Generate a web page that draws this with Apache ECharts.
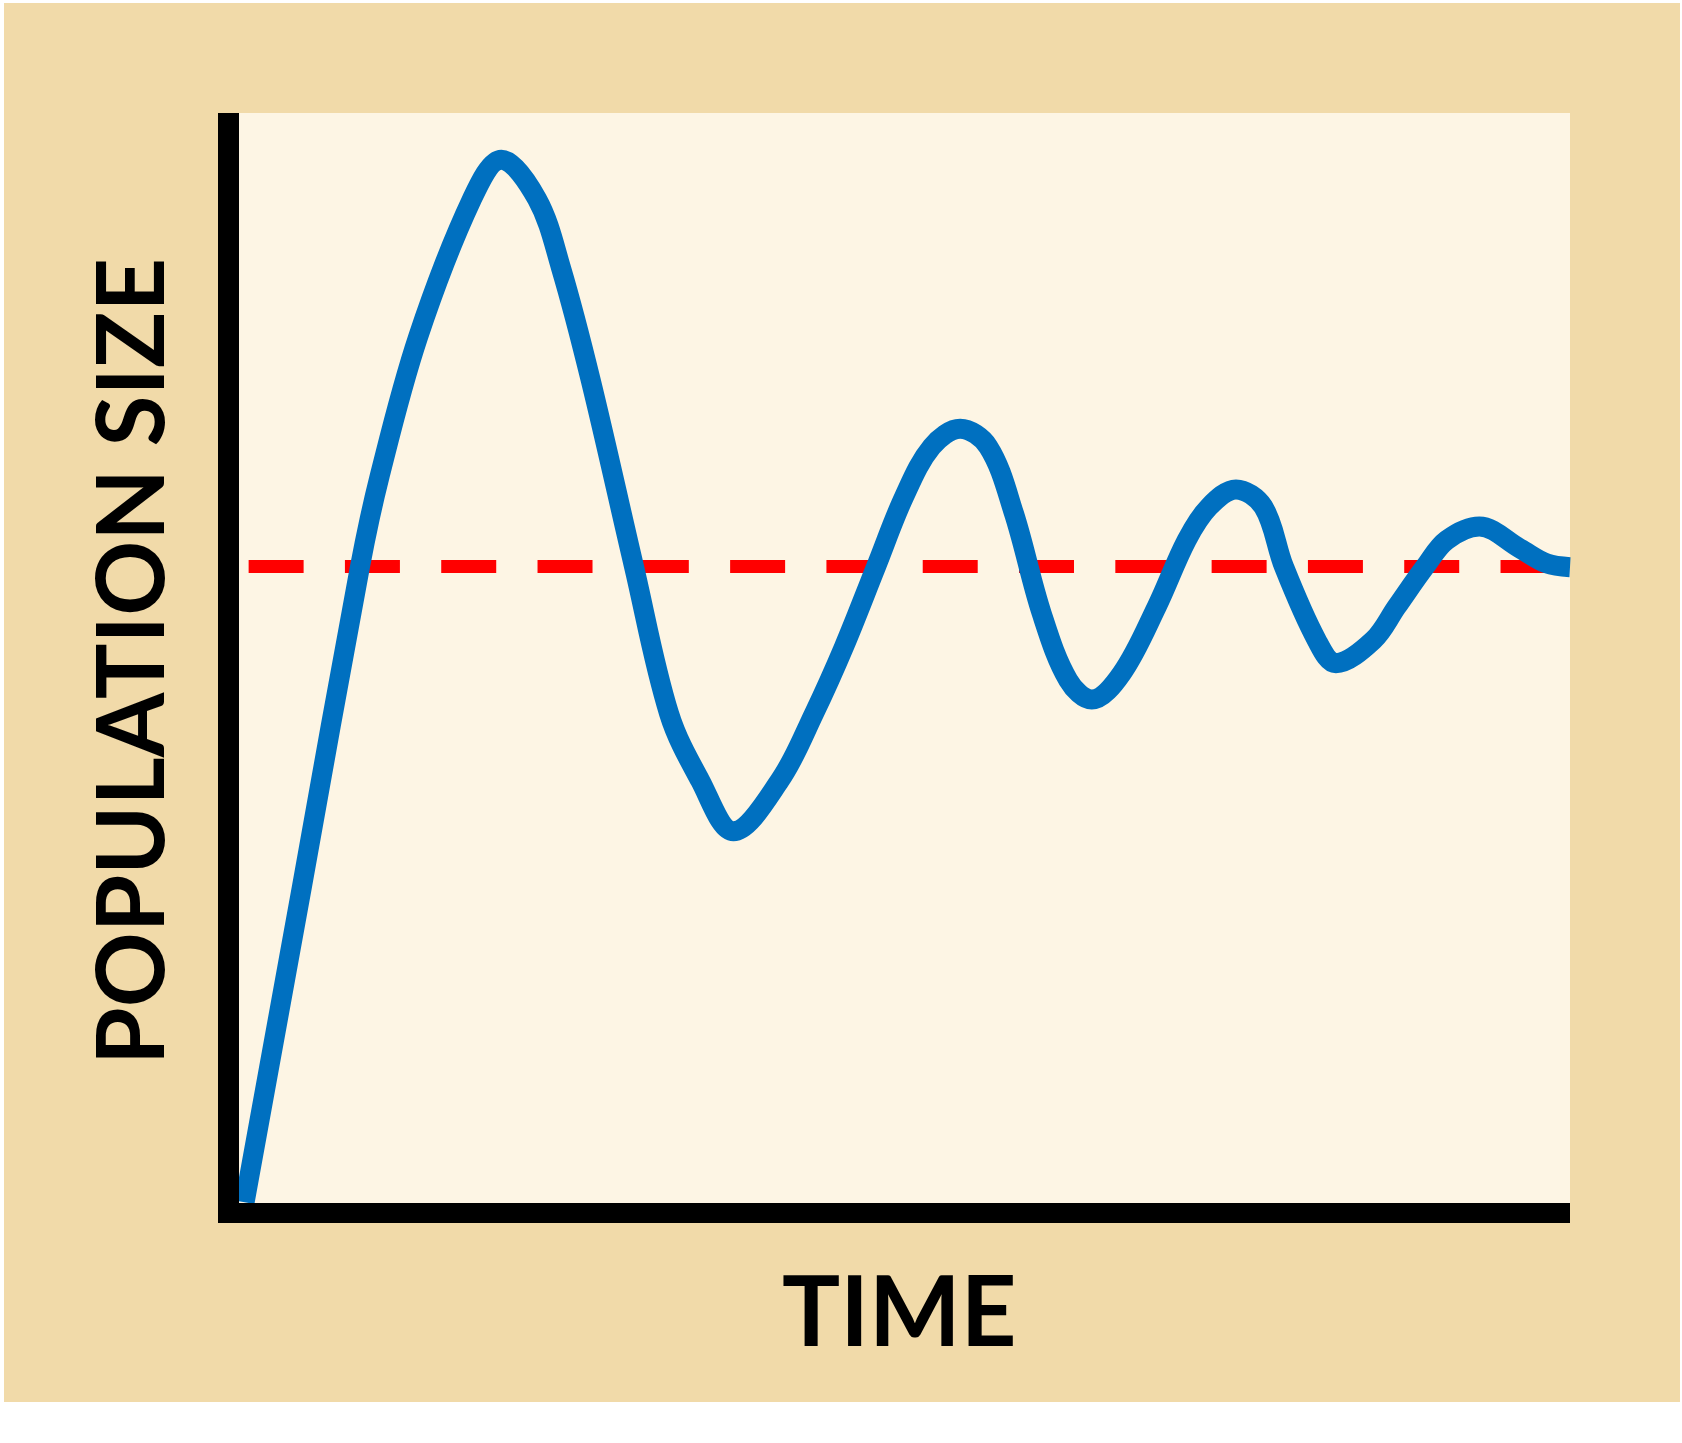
<!DOCTYPE html>
<html>
<head>
<meta charset="utf-8">
<script src="https://cdn.jsdelivr.net/npm/echarts@6/dist/echarts.min.js"></script>
<style>
  html, body { margin: 0; padding: 0; background: #ffffff; width: 1682px; height: 1443px; overflow: hidden; }
  #chart { position: absolute; left: 4px; top: 3px; width: 1676px; height: 1399px; }
</style>
</head>
<body>
<div id="chart"></div>
<script>
// ---- data ----
const xAxisTitle = 'TIME';
const yAxisTitle = 'POPULATION SIZE';

const time = [
  1.20, 5.48, 9.80, 11.29, 14.13, 18.15, 20.34, 23.00, 24.79, 27.00,
  30.23, 32.84, 35.15, 37.64, 41.11, 43.65, 45.88, 48.27, 50.35, 52.42,
  54.54, 56.64, 58.55, 60.62, 62.60, 64.35, 66.58, 69.19, 71.43, 73.09,
  75.10, 77.14, 78.68, 81.12, 82.55, 85.34, 87.08, 89.19, 90.81, 93.24,
  96.27, 98.26, 100.00
];
const population = [
  0.1, 29.08, 58.39, 66.81, 79.45, 92.11, 95.72, 92.11, 85.78, 75.50,
  58.39, 44.93, 38.81, 34.13, 38.81, 44.93, 51.04, 58.39, 64.77, 69.39,
  71.04, 69.39, 63.28, 54.10, 47.98, 46.21, 48.60, 54.71, 60.83, 63.88,
  65.48, 63.88, 58.38, 51.65, 49.54, 51.65, 54.71, 58.38, 60.83, 62.08,
  60.06, 58.69, 58.35
];
const carryingCapacity = 58.4;
const capacitySpan = [1.5, 100];

// ---- build series data from the arrays ----
const curveData = time.map((t, i) => [t, population[i]]);
const capacityData = capacitySpan.map(t => [t, carryingCapacity]);

const chart = echarts.init(document.getElementById('chart'), null, { renderer: 'canvas' });
const labelFont = 'Lato, "Open Sans", "Noto Sans", sans-serif';

chart.setOption({
  animation: false,
  backgroundColor: '#F1DAA9',
  grid: {
    left: 224.5, right: 110, top: 110, bottom: 179,
    show: true,
    backgroundColor: '#FDF5E4',
    borderWidth: 0,
    outerBoundsMode: 'none'
  },
  xAxis: {
    type: 'value',
    min: 0, max: 100,
    offset: -10,
    z: 5,
    name: xAxisTitle,
    nameLocation: 'middle',
    nameGap: 101.5,
    nameTextStyle: {
      fontFamily: labelFont, fontWeight: 'bold', fontSize: 97, color: '#000000',
      verticalAlign: 'middle'
    },
    axisLine: { show: true, onZero: false, lineStyle: { color: '#000000', width: 20, cap: 'butt' } },
    axisTick: { show: false },
    axisLabel: { show: false },
    splitLine: { show: false }
  },
  yAxis: {
    type: 'value',
    min: -1.8, max: 100,
    z: 5,
    name: yAxisTitle,
    nameLocation: 'middle',
    nameRotate: 90,
    nameGap: 94.5,
    nameTextStyle: {
      fontFamily: labelFont, fontWeight: 'bold', fontSize: 93, color: '#000000',
      verticalAlign: 'middle',
      padding: [0, 0, 0, 13]
    },
    axisLine: { show: true, onZero: false, lineStyle: { color: '#000000', width: 21, cap: 'butt' } },
    axisTick: { show: false },
    axisLabel: { show: false },
    splitLine: { show: false }
  },
  series: [
    {
      name: 'carrying capacity',
      type: 'line',
      data: capacityData,
      symbol: 'none',
      silent: true,
      z: 2,
      lineStyle: { color: '#FF0000', width: 13, type: [55, 41.3], cap: 'butt' }
    },
    {
      name: 'population',
      type: 'line',
      data: curveData,
      symbol: 'none',
      smooth: 0.35,
      silent: true,
      z: 3,
      lineStyle: { color: '#0070C0', width: 20, cap: 'butt', join: 'round' }
    }
  ]
});
</script>
</body>
</html>
